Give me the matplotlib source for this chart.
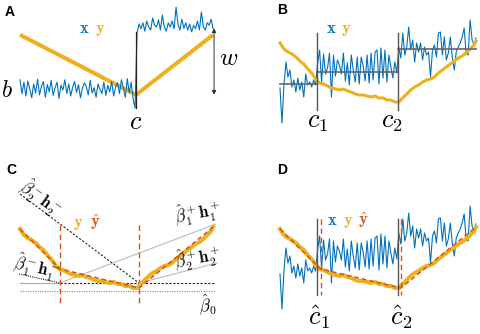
import numpy as np
import matplotlib.pyplot as plt

plt.rcParams['mathtext.fontset'] = 'cm'

BLUE = '#0072BD'
GOLD = '#EDB120'
RED = '#D95319'

# panel A: one jump in x, hinge-shaped y
a_x_left = [0.17, -0.06, 0.13, -0.10, 0.15, 0.02, -0.13, 0.10, -0.05, 0.18,
            -0.08, 0.06, 0.14, -0.12, 0.09, -0.03, 0.16, -0.09, 0.04, 0.13,
            -0.14, 0.08, 0.00, 0.17, -0.06, 0.10, -0.10, 0.05, 0.14, -0.04,
            0.09, -0.13, 0.03, 0.12, 0.06, -0.08, 0.16, -0.05, 0.04, -0.12,
            0.10, 0.01, -0.06, 0.13, -0.09, 0.08, -0.03, 0.14, -0.10, 0.05,
            0.12, -0.06, 0.17, 0.03, -0.12, 0.19, -0.05, 0.13, -0.15, -0.30]
a_x_right = [0.95, 1.10, 1.02, 1.12, 0.98, 1.15, 1.05, 1.00, 1.20, 1.08,
             1.05, 1.17, 1.00, 1.25, 1.05, 0.98, 1.12, 1.05, 1.15, 1.02,
             1.38, 1.10, 1.00, 1.18, 1.03, 1.12, 1.00, 1.10, 0.97, 1.08,
             1.02, 1.15, 1.00, 1.30, 1.05, 1.00, 1.12, 1.08, 1.18, 1.02]
a_y_t = [0, 59.5, 99]
a_y_v = [0.92, -0.08, 0.92]
a_c = 59.5
a_w = [1.03, -0.08]

# panels B-D: two jumps
bd_x = [1.2, -2.3, 1.5, 3.8, 2.3, 3.0, 1.3, 2.0, 0.8, 2.2,
        1.0, 1.8, 0.3, 2.6, 1.5, 1.8, 1.3, 2.0, 1.5,
        3.7, 5.0, 1.8, 4.6, 2.6, 3.2, 4.7, 0.3, 4.5, 2.4,
        4.0, 3.5, 2.6, 4.7, 1.9, 3.7, 1.5, 4.5, 3.0, 1.8,
        4.3, 1.6, 4.3, 3.4, 1.9, 4.5, 1.7, 4.7, 2.0, 4.8,
        5.0, 1.6, 5.2, 2.2, 5.0, 1.8, 4.5, 3.3, 2.2, 3.8, 2.7,
        5.3, 4.2, 6.7, 4.5, 5.3, 7.3, 5.0, 6.0, 3.8, 5.7,
        4.8, 5.7, 4.0, 5.3, 4.5, 4.8, 2.3, 5.0, 5.5, 4.3,
        6.7, 6.8, 4.5, 6.3, 4.0, 4.7, 6.3, 4.3, 3.0, 4.8,
        5.3, 5.7, 6.3, 7.2, 4.7, 4.5, 8.0, 6.0, 5.5, 6.2]
bd_levels = [1.6, 2.8, 5.1]
bd_c = [18.5, 59.5]
bd_chat = [20.5, 61.0]

y_t = list(range(0, 100, 2)) + [99]
y_v = [5.7, 5.1, 4.8, 4.6, 4.3, 3.9, 3.6, 3.1, 2.7, 2.1,
       1.7, 1.6, 1.4, 1.2, 1.1, 1.0, 1.1, 0.9, 0.8, 0.6,
       0.5, 0.5, 0.4, 0.3, 0.4, 0.2, 0.2, 0.0, 0.0, -0.2,
       -0.2, 0.2, 0.6, 1.0, 1.3, 1.5, 1.8, 2.0, 2.1, 2.3,
       2.7, 3.0, 3.3, 3.6, 3.9, 4.2, 4.4, 4.7, 5.1, 5.5,
       5.9]
yhat_t = [0, 20.5, 61, 99]
yhat_v = [5.7, 1.7, -0.2, 5.9]

# panel C: hinge components
beta0 = -0.5
base = 0.3
b1m_t, b1m_v = [-0.5, 20.5], [1.2, 0.3]
b2m_t, b2m_v = [0, 61], [9.2, 0.3]
b1p_t, b1p_v = [20.5, 100.5], [0.3, 6.2]
b2p_t, b2p_v = [61, 101], [0.3, 2.3]

fig = plt.figure(figsize=(4.8, 3.34), dpi=100)
fig.patch.set_facecolor('white')


def panel(l, t, w, h, xlim, ylim):
    ax = fig.add_axes([l / 480, 1 - (t + h) / 334, w / 480, h / 334])
    ax.set_xlim(*xlim)
    ax.set_ylim(*ylim)
    ax.axis('off')
    return ax


def xy_label(ax, ts, v, hat=False):
    ax.text(ts[0], v, r'$\mathbf{x}$', color=BLUE, fontsize=12, ha='center', va='baseline')
    ax.text(ts[1], v, r'$\mathbf{y}$', color=GOLD, fontsize=12, ha='center', va='baseline')
    if hat:
        ax.text(ts[2], v, r'$\hat{\mathbf{y}}$', color=RED, fontsize=12, ha='center', va='baseline')


# ---- A
ax = panel(0, 0, 240, 167, (-10.26, 112.8), (-1.283, 1.5))
xa = a_x_left + a_x_right
ax.plot(a_y_t, a_y_v, color=GOLD, lw=2.9, solid_capstyle='butt')
ax.plot(range(len(xa)), xa, color=BLUE, lw=0.8)
ax.plot([a_c, a_c], [0.97, -0.3], color='#222222', lw=0.9)
ax.annotate('', xy=(99.5, a_w[1]), xytext=(99.5, a_w[0]),
            arrowprops=dict(arrowstyle='<|-|>', color='#333333', lw=0.7, mutation_scale=6,
                            shrinkA=0, shrinkB=0))
ax.text(-6.7, -0.117, r'$b$', fontsize=17, ha='center', va='baseline')
ax.text(59.5, -0.65, r'$c$', fontsize=19, ha='center', va='baseline')
ax.text(107.2, 0.42, r'$w$', fontsize=18, ha='center', va='baseline')
xy_label(ax, [32.8, 41.0], 0.95)

# ---- B
ax = panel(240, 0, 240, 167, (-20.2, 101.0), (-6.7, 10))
ax.plot(range(len(bd_x)), bd_x, color=BLUE, lw=0.8)
ax.plot(y_t, y_v, color=GOLD, lw=2.2)
edges = [0] + bd_c + [99]
for k, lev in enumerate(bd_levels):
    ax.plot([edges[k], edges[k + 1]], [lev, lev], color='#666666', lw=1.2)
for c in bd_c:
    ax.plot([c, c], [6.7, -1.0], color='#555555', lw=1.0)
ax.text(18.9, -2.8, r'$c_1$', fontsize=19, ha='center', va='baseline')
ax.text(56.3, -2.8, r'$c_2$', fontsize=19, ha='center', va='baseline')
xy_label(ax, [25.8, 33.3], 6.7)

# ---- C
ax = panel(0, 167, 240, 167, (-10.26, 112.8), (-4.8, 11.9))
ax.plot([0, 100], [beta0, beta0], color='#888888', lw=0.8, ls=(0, (1, 1.2)))
ax.plot([0, bd_chat[0]], [base, base], color='#aaaaaa', lw=0.8)
ax.plot([bd_chat[0], 100], [base, base], color='#222222', lw=0.8, ls=(0, (2, 1.5)))
ax.plot(b1m_t, b1m_v, color='#222222', lw=0.8, ls=(0, (1, 1)))
ax.plot(b2m_t, b2m_v, color='#222222', lw=0.8, ls=(0, (2, 1.5)))
ax.plot(b1p_t, b1p_v, color='#bbbbbb', lw=0.8)
ax.plot(b2p_t, b2p_v, color='#bbbbbb', lw=0.8)
for c in bd_chat:
    ax.plot([c, c], [6.1, -1.7], color=RED, lw=1.0, ls=(0, (4, 2.5)))
ax.plot(y_t, y_v, color=GOLD, lw=2.9)
ax.plot(yhat_t, yhat_v, color=RED, lw=1.1, ls=(0, (3, 2)))
ax.text(10.3, 8.8, r'$\hat{\beta}_2^-\mathbf{h}_2^-$', fontsize=12, rotation=-36,
        ha='center', va='center')
ax.text(8.7, 1.8, r'$\hat{\beta}_1^-\mathbf{h}_1^-$', fontsize=12, rotation=-13,
        ha='center', va='center')
ax.text(91.3, 7.3, r'$\hat{\beta}_1^+\mathbf{h}_1^+$', fontsize=12, rotation=10,
        ha='center', va='center')
ax.text(91.3, 2.8, r'$\hat{\beta}_2^+\mathbf{h}_2^+$', fontsize=12, rotation=10,
        ha='center', va='center')
ax.text(96.4, -1.9, r'$\hat{\beta}_0$', fontsize=12, ha='center', va='center')
ax.text(29.7, 5.9, r'$\mathbf{y}$', color=GOLD, fontsize=12, ha='center', va='baseline')
ax.text(38.5, 5.9, r'$\hat{\mathbf{y}}$', color=RED, fontsize=12, ha='center', va='baseline')

# ---- D
ax = panel(240, 167, 240, 167, (-20.2, 101.0), (-4.8, 11.9))
ax.plot(range(len(bd_x)), bd_x, color=BLUE, lw=0.8)
ax.plot(y_t, y_v, color=GOLD, lw=2.9)
ax.plot(yhat_t, yhat_v, color=RED, lw=1.1, ls=(0, (3, 2)))
for c in bd_c:
    ax.plot([c, c], [6.7, -0.9], color='#555555', lw=1.0)
for c in bd_chat:
    ax.plot([c, c], [6.7, -0.9], color=RED, lw=1.0, ls=(0, (4, 2.5)))
ax.text(19.7, -3.9, r'$\hat{c}_1$', fontsize=19, ha='center', va='baseline')
ax.text(61.1, -3.9, r'$\hat{c}_2$', fontsize=19, ha='center', va='baseline')
xy_label(ax, [26.3, 34.3, 41.9], 6.1, hat=True)

# panel letters
for lab, (px, py) in zip('ABCD', [(10, 12), (282, 10), (11, 170), (282, 170)]):
    fig.text(px / 480, 1 - py / 334, lab, fontsize=10, fontweight='bold',
             family='Liberation Sans', ha='center', va='center')

fig.savefig('out.png', dpi=100)
